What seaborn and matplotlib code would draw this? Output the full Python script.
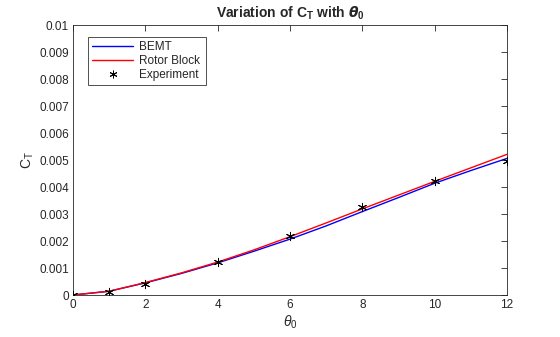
import matplotlib
matplotlib.use("Agg")
import matplotlib.pyplot as plt
import seaborn as sns
import pandas as pd
from matplotlib.ticker import FuncFormatter
from matplotlib.lines import Line2D

theta = [0, 1, 2, 3, 4, 5, 6, 7, 8, 9, 10, 11, 12]
ct_bemt = [0, 0.00014, 0.00045, 0.00080, 0.00119, 0.00162, 0.00207,
           0.00256, 0.00309, 0.00361, 0.00414, 0.00461, 0.00506]
ct_rotor = [0, 0.00014, 0.00046, 0.00082, 0.00122, 0.00167, 0.00216,
            0.00267, 0.00319, 0.00370, 0.00421, 0.00471, 0.00521]
theta_exp = [0, 1, 2, 4, 6, 8, 10, 12]
ct_exp = [0, 0.00010, 0.00042, 0.00122, 0.00218, 0.00325, 0.00422, 0.00496]
yticks = [0, 0.001, 0.002, 0.003, 0.004, 0.005, 0.006, 0.007, 0.008, 0.009, 0.01]
xticks = [0, 2, 4, 6, 8, 10, 12]

sns.set_style("white")
plt.rcParams['font.family'] = ['Liberation Sans', 'DejaVu Sans']
plt.rcParams['mathtext.fontset'] = 'custom'
plt.rcParams['mathtext.rm'] = 'Liberation Sans'
plt.rcParams['mathtext.it'] = 'Liberation Sans:italic'
plt.rcParams['mathtext.bf'] = 'Liberation Sans:bold'
plt.rcParams['mathtext.fallback'] = 'stixsans'

lines = pd.DataFrame({
    'theta': theta + theta,
    'ct': ct_bemt + ct_rotor,
    'model': ['BEMT'] * len(theta) + ['Rotor Block'] * len(theta),
})
exp = pd.DataFrame({'theta': theta_exp, 'ct': ct_exp, 'model': 'Experiment'})

fig = plt.figure(figsize=(5.6, 3.37), dpi=100)
ax = fig.add_axes([0.1304, 0.1246, 0.7750, 0.8012])

sns.lineplot(data=lines, x='theta', y='ct', hue='model',
             palette={'BEMT': '#0000ff', 'Rotor Block': '#ff0000'},
             linewidth=1.0, ax=ax, legend=False)
sns.scatterplot(data=exp, x='theta', y='ct', marker=(6, 2, 0), color='black',
                s=36, linewidth=0.7, ax=ax, legend=False, zorder=3)

ax.set_xlim(0, 12)
ax.set_ylim(0, 0.01)
ax.set_xticks(xticks)
ax.set_yticks(yticks)
ax.yaxis.set_major_formatter(FuncFormatter(lambda v, p: '%g' % v))
ax.tick_params(direction='in', length=4, width=0.6, labelsize=8.5, colors='#262626',
               top=True, right=True, pad=3)
for s in ax.spines.values():
    s.set_linewidth(0.6)
    s.set_color('#262626')

ax.set_xlabel(r'$\theta_0$', fontsize=10, color='#262626', labelpad=2)
ax.set_ylabel(r'C$_{\mathrm{T}}$', fontsize=10, color='#262626', labelpad=2)
ax.set_title(r'Variation of C$_{\mathbf{T}}$ with $\boldsymbol{\theta}_{\mathbf{0}}$',
             fontsize=10, fontweight='bold', pad=5)

handles = [Line2D([], [], color='#0000ff', lw=1.0),
           Line2D([], [], color='#ff0000', lw=1.0),
           Line2D([], [], color='black', lw=0, marker=(6, 2, 0), markersize=5.5, markeredgewidth=0.7)]
leg = ax.legend(handles, ['BEMT', 'Rotor Block', 'Experiment '], loc='upper left',
                bbox_to_anchor=(0.034, 0.955), fontsize=8.5, frameon=True, fancybox=False,
                edgecolor='black', handlelength=3.5, handletextpad=0.5, borderpad=0.35,
                labelspacing=0.15, borderaxespad=0)
leg.get_frame().set_linewidth(0.6)

fig.savefig('out.png', dpi=100)
